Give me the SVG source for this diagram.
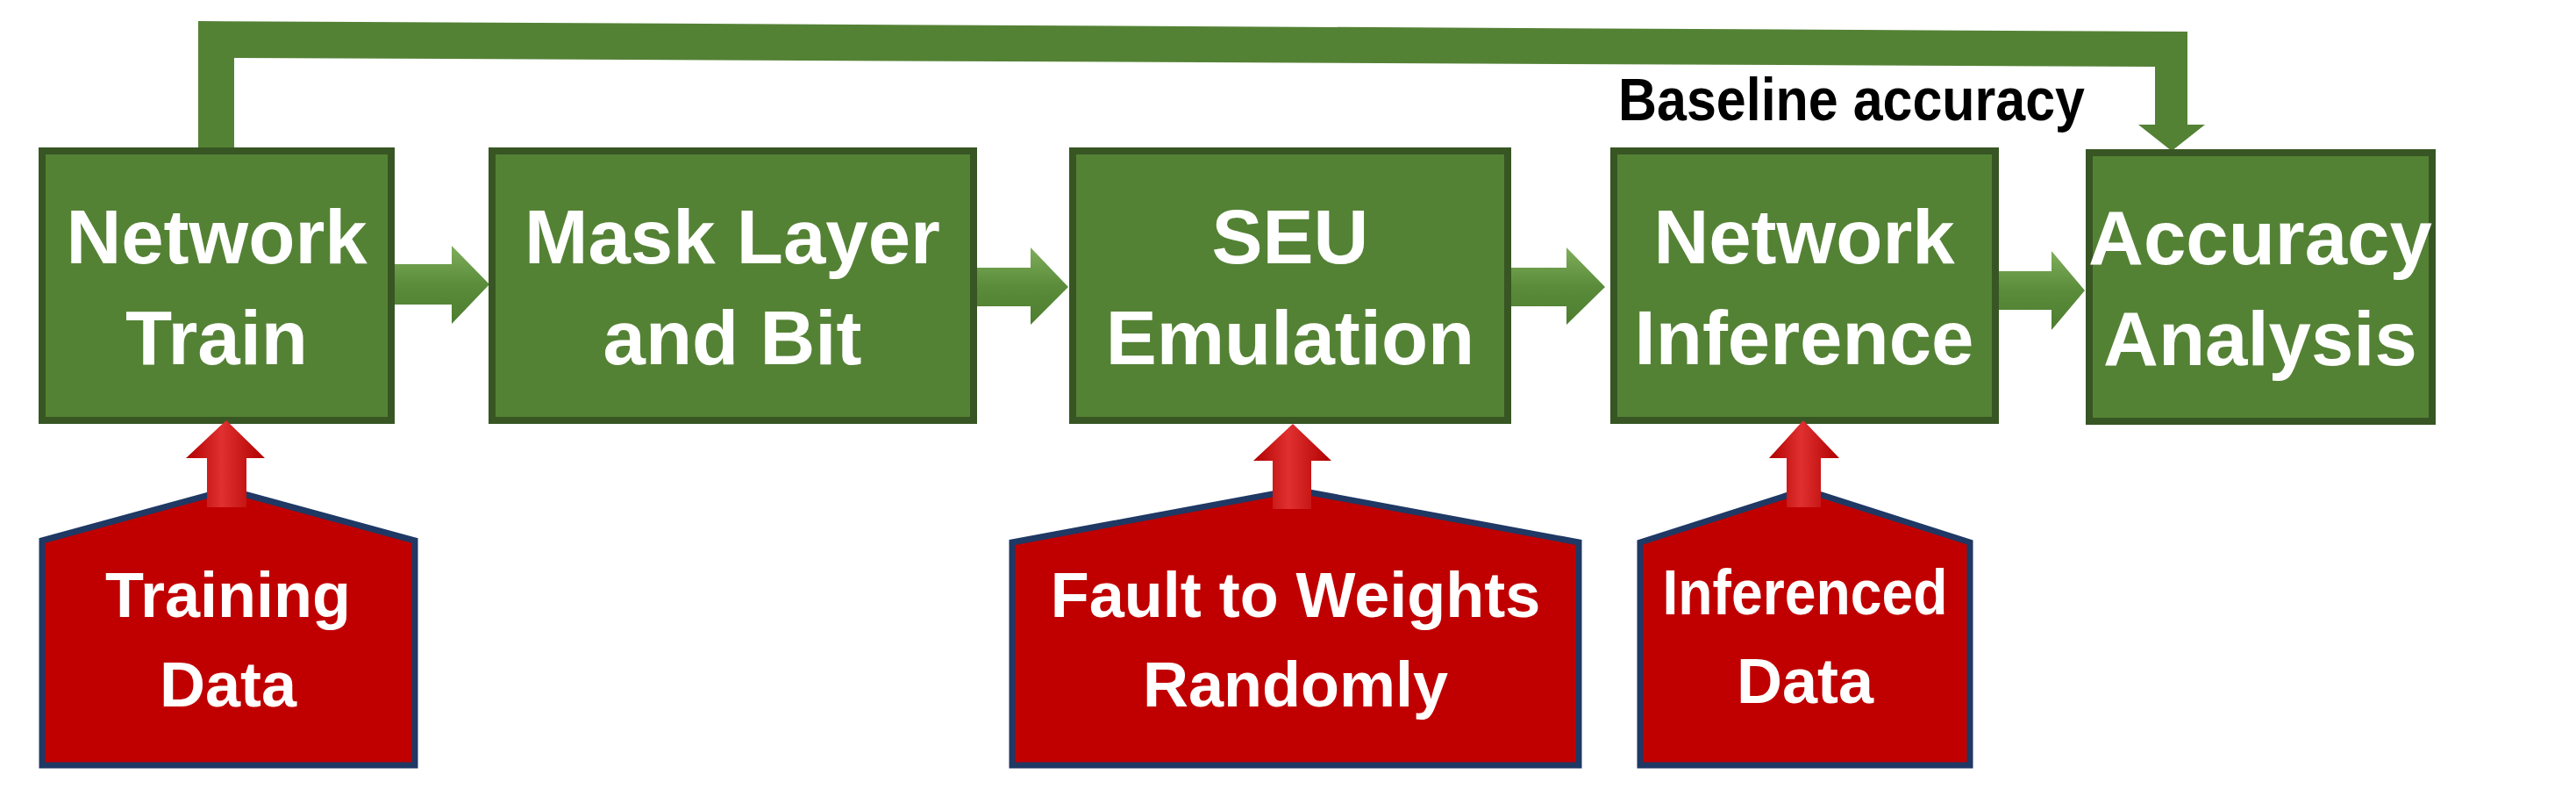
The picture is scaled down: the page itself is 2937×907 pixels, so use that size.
<svg xmlns="http://www.w3.org/2000/svg" width="2937" height="907" viewBox="0 0 2937 907">
<style>
.box{fill:#548235;stroke:#375623;stroke-width:8}
.inp{fill:#c00000;stroke:#1f3864;stroke-width:7}
.wt{font-family:"Liberation Sans",Arial,sans-serif;font-weight:bold;fill:#fff;text-anchor:middle}
.g{font-size:87px}
.r{font-size:72px}
.garr{fill:url(#gg)}
.rarr{fill:url(#rg)}
</style>
<defs>
<linearGradient id="gg" x1="0" y1="0" x2="0" y2="1"><stop offset="0" stop-color="#7fae5c"/><stop offset="0.5" stop-color="#5a8c3a"/><stop offset="1" stop-color="#4e7d30"/></linearGradient>
<linearGradient id="rg" x1="0" y1="0" x2="1" y2="0"><stop offset="0" stop-color="#b00000"/><stop offset="0.45" stop-color="#e03030"/><stop offset="1" stop-color="#b00000"/></linearGradient>
</defs>
<rect width="2937" height="907" fill="#fff"/>
<g id="connectors">
<polygon fill="#548235" points="226,172 226,24 2494,36 2494,142 2514,142 2476,172 2438,142 2457,142 2457,76 267,66 267,172"/>
<polygon class="garr" points="446,301 515,301 515,280 558,324 515,369 515,347 446,347"/>
<polygon class="garr" points="1110,305 1175,305 1175,282 1218,327 1175,370 1175,349 1110,349"/>
<polygon class="garr" points="1719,305 1786,305 1786,282 1830,327 1786,370 1786,349 1719,349"/>
<polygon class="garr" points="2275,309 2339,309 2339,286 2377,331 2339,376 2339,353 2275,353"/>
</g>
<g id="n1"><rect class="box" x="48" y="172" width="398" height="307"/><text class="wt g" x="247" y="300">Network</text><text class="wt g" x="247" y="415">Train</text></g>
<g id="n2"><rect class="box" x="561" y="172" width="549" height="307"/><text class="wt g" x="835" y="300">Mask Layer</text><text class="wt g" x="835" y="415">and Bit</text></g>
<g id="n3"><rect class="box" x="1223" y="172" width="496" height="307"/><text class="wt g" x="1471" y="300">SEU</text><text class="wt g" x="1471" y="415">Emulation</text></g>
<g id="n4"><rect class="box" x="1840" y="172" width="435" height="307"/><text class="wt g" x="2057" y="300">Network</text><text class="wt g" x="2057" y="415">Inference</text></g>
<g id="n5"><rect class="box" x="2382" y="174" width="391" height="306"/><text class="wt g" x="2577" y="301">Accuracy</text><text class="wt g" x="2577" y="416">Analysis</text></g>
<text x="1845" y="137" font-family="'Liberation Sans',Arial,sans-serif" font-weight="bold" font-size="68" textLength="532" lengthAdjust="spacingAndGlyphs">Baseline accuracy</text>
<g id="i1"><polygon class="inp" points="48,616 260,558 473,616 473,872 48,872"/><polygon class="rarr" points="236,578 236,522 212,522 258,479 302,522 281,522 281,578"/><text class="wt r" x="260" y="703">Training</text><text class="wt r" x="260" y="805">Data</text></g>
<g id="i2"><polygon class="inp" points="1154,618 1477,558 1800,618 1800,872 1154,872"/><polygon class="rarr" points="1451,580 1451,525 1429,525 1474,483 1518,525 1495,525 1495,580"/><text class="wt r" x="1477" y="703">Fault to Weights</text><text class="wt r" x="1477" y="805">Randomly</text></g>
<g id="i3"><polygon class="inp" points="1870,618 2058,558 2246,618 2246,872 1870,872"/><polygon class="rarr" points="2037,578 2037,522 2017,522 2056,479 2097,522 2076,522 2076,578"/><text class="wt r" x="2058" y="700" textLength="325" lengthAdjust="spacingAndGlyphs">Inferenced</text><text class="wt r" x="2058" y="801">Data</text></g>
</svg>
